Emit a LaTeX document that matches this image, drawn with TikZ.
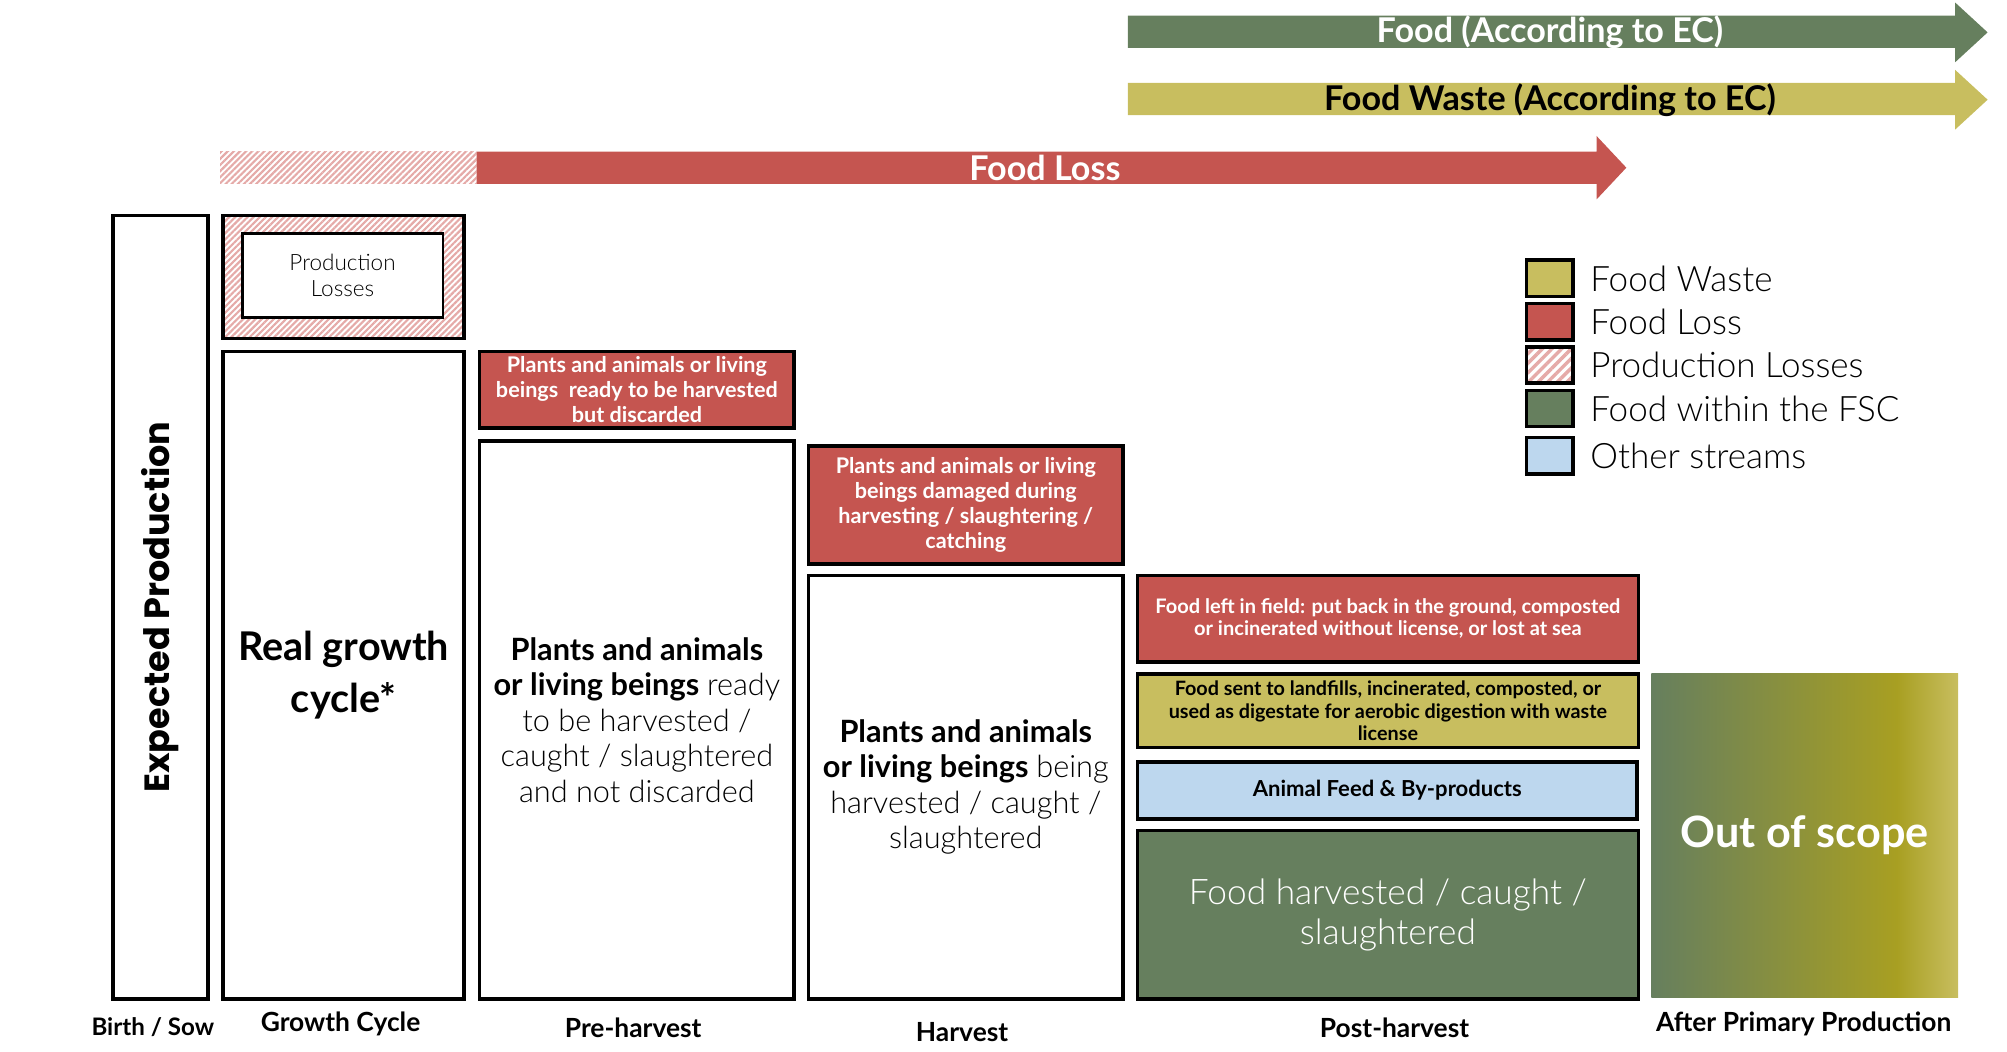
\documentclass[tikz,border=0pt]{standalone}
\usepackage{fontspec}
\setmainfont{Lato}
\newfontfamily\lightfont{Lato Light}
\newfontfamily\widefont{Poppins}
\usetikzlibrary{patterns.meta}

\definecolor{fscgreen}{HTML}{667F5E}
\definecolor{lossred}{HTML}{C55550}
\definecolor{wasteyel}{HTML}{C8BE5F}
\definecolor{olivedk}{HTML}{A89F22}
\definecolor{otherblue}{HTML}{BDD7EE}
\definecolor{hatchpink}{HTML}{E5AAA8}

\pgfdeclarehorizontalshading{outscope}{100bp}{color(0bp)=(fscgreen); color(25bp)=(fscgreen); color(65bp)=(olivedk); color(75bp)=(wasteyel); color(100bp)=(wasteyel)}

\tikzset{
  hatch/.style={pattern={Lines[angle=45,distance=1.9pt,line width=0.95pt]}, pattern color=hatchpink},
  fs/.style 2 args={font=\fontsize{#1}{#2}\selectfont}
}

\begin{document}
\begin{tikzpicture}[x=0.02cm, y=-0.02cm]
\useasboundingbox (0,0) rectangle (1550,812);

% arrows
\fill[fscgreen] (871,12) -- (1510,12) -- (1510,2) -- (1535,25) -- (1510,48) -- (1510,37) -- (871,37) -- cycle;
\fill[wasteyel] (871,64) -- (1510,64) -- (1510,54) -- (1535,77) -- (1510,100) -- (1510,89) -- (871,89) -- cycle;
\fill[hatch] (170,117) rectangle (368,142);
\fill[lossred] (368,117) -- (1233,117) -- (1233,105) -- (1256,129.5) -- (1233,154) -- (1233,142) -- (368,142) -- cycle;
\node[text=white, fs={15}{17}] (food) at (1197,25) {\bfseries Food (According to EC)};
\node[fs={15}{17}] (waste) at (1197,77) {\bfseries Food Waste (According to EC)};
\node[text=white, fs={15}{17}] (loss) at (807,130) {\bfseries Food Loss};

\begin{scope}[every node/.style={draw, line width=1.6pt, inner sep=0pt, align=center, anchor=north west}]
  \node[minimum width=1.46cm, minimum height=12.1cm] (exp) at (86,165) {};
  \node[hatch, minimum width=3.72cm, minimum height=1.9cm] (plost) at (171,165) {};
  \node[fill=white, line width=1.2pt, minimum width=3.1cm, minimum height=1.3cm, fs={9.9}{11.3}] (plostin) at (186,179) {\lightfont Production\\\lightfont Losses};
  \node[minimum width=3.72cm, minimum height=10cm, fs={17.4}{22.7}] (real) at (171,270) {\bfseries Real growth\\\bfseries cycle*};
  \node[fill=lossred, text=white, minimum width=4.86cm, minimum height=1.18cm, fs={9.5}{11}] (preL) at (369,270)
    {\bfseries Plants and animals or living\\\bfseries beings\ \ ready to be harvested\\\bfseries but discarded};
  \node[minimum width=4.86cm, minimum height=8.62cm, fs={13.5}{15.6}] (pre) at (369,339)
    {\textbf{Plants and animals}\\\textbf{or living beings} {\lightfont ready}\\\lightfont to be harvested /\\\lightfont caught / slaughtered\\\lightfont and not discarded};
  \node[fill=lossred, text=white, minimum width=4.86cm, minimum height=1.82cm, fs={9.5}{11}] (harvL) at (623,343)
    {\bfseries Plants and animals or living\\\bfseries beings damaged during\\\bfseries harvesting / slaughtering /\\\bfseries catching};
  \node[minimum width=4.86cm, minimum height=6.54cm, fs={13.5}{15.6}] (harv) at (623,443)
    {\textbf{Plants and animals}\\\textbf{or living beings} {\lightfont being}\\\lightfont harvested / caught /\\\lightfont slaughtered};
  \node[fill=lossred, text=white, minimum width=7.74cm, minimum height=1.34cm, fs={8.8}{9.6}] (postL) at (877,443)
    {\bfseries Food left in field: put back in the ground, composted\\\bfseries or incinerated without license, or lost at sea};
  \node[fill=wasteyel, minimum width=7.74cm, minimum height=1.14cm, fs={8.7}{9.9}] (postW) at (877,519)
    {\bfseries Food sent to landfills, incinerated, composted, or\\\bfseries used as digestate for aerobic digestion with waste\\\bfseries license};
  \node[fill=otherblue, minimum width=7.72cm, minimum height=0.88cm, fs={9.7}{11}] (postO) at (877,587)
    {\bfseries Animal Feed \& By-products};
  \node[fill=fscgreen, text=white, minimum width=7.74cm, minimum height=2.6cm, fs={15.5}{17.6}] (postF) at (877,640)
    {\lightfont Food harvested / caught /\\\lightfont slaughtered};
\end{scope}

\node[rotate=90, fs={15.4}{17}] (explbl) at (exp.center) {\widefont\bfseries Expected Production};
\node[shading=outscope, inner sep=0pt, anchor=north west, minimum width=4.74cm, minimum height=5cm,
  text=white, fs={19}{22}] (out) at (1275,520) {\bfseries Out of scope};

% legend
\begin{scope}[every node/.style={draw, line width=1.6pt, minimum width=0.72cm, minimum height=0.56cm, inner sep=0pt}]
  \node[fill=wasteyel] (lgW) at (1197,215) {};
  \node[fill=lossred] (lgL) at (1197,248.5) {};
  \node[pattern={Lines[angle=45,distance=3pt,line width=1.5pt]}, pattern color=hatchpink] (lgP) at (1197,282) {};
  \node[fill=fscgreen] (lgF) at (1197,315.5) {};
  \node[fill=otherblue] (lgO) at (1197,352) {};
\end{scope}
\begin{scope}[every node/.style={anchor=west, font=\lightfont\fontsize{15.4}{17}\selectfont}]
  \node (tW) at (1222,215) {Food Waste};
  \node (tL) at (1222,248.5) {Food Loss};
  \node (tP) at (1222,282) {Production Losses};
  \node (tF) at (1222,315.5) {Food within the FSC};
  \node (tO) at (1222,352) {Other streams};
\end{scope}

% stages
\begin{scope}[every node/.style={font=\bfseries\fontsize{11.6}{13}\selectfont}]
  \node[font=\bfseries\fontsize{10.6}{12}\selectfont] (sow) at (118,793) {Birth / Sow};
  \node (grow) at (263,791) {Growth Cycle};
  \node (preh) at (489,794) {Pre-harvest};
  \node (harvh) at (743,797) {Harvest};
  \node (posth) at (1077,794) {Post-harvest};
  \node (after) at (1393,791) {After Primary Production};
\end{scope}

\end{tikzpicture}
\end{document}
